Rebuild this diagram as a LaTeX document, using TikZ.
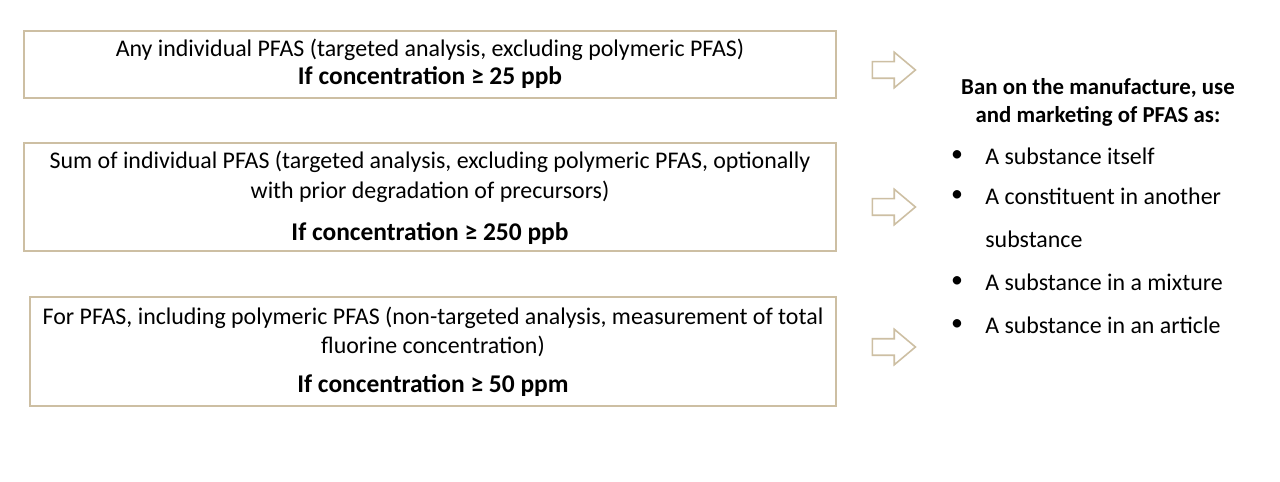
\documentclass[tikz,border=0pt]{standalone}
\usepackage{fontspec}
\setmainfont{Carlito}
\usetikzlibrary{shapes.arrows}
\definecolor{tan}{HTML}{CDBFA3}

\tikzset{
  critbox/.style={draw=tan, line width=0.9pt, fill=white, rectangle, inner sep=0pt},
  bigarrow/.style={single arrow, draw=tan, line width=0.9pt, fill=white, minimum width=0.68cm, minimum height=0.86cm, single arrow head extend=0.19cm, single arrow tip angle=80, inner xsep=0pt, inner ysep=0.15cm},
  txt/.style={font=\fontsize{13.6}{15.9}\selectfont, inner sep=0pt},
  limit/.style={font=\fontsize{14.5}{16}\selectfont\bfseries, inner sep=0pt}
}

\begin{document}
\begin{tikzpicture}[x=0.02cm,y=-0.02cm]
\useasboundingbox[fill=white] (0,0) rectangle (1280,482);
% criteria boxes
\node[critbox, minimum width=812*0.02cm, minimum height=67*0.02cm] (b1) at (430,64.5) {};
\node[critbox, minimum width=812*0.02cm, minimum height=108*0.02cm] (b2) at (430,197) {};
\node[critbox, minimum width=806*0.02cm, minimum height=109*0.02cm] (b3) at (433,351.5) {};
\node[txt] (t11) at (430,50) {Any individual PFAS (targeted analysis, excluding polymeric PFAS)};
\node[limit] (t12) at (430,78) {If concentration ≥ 25 ppb};
\node[txt] (t21) at (430,162) {Sum of individual PFAS (targeted analysis, excluding polymeric PFAS, optionally};
\node[txt] (t22) at (430,192) {with prior degradation of precursors)};
\node[limit] (t23) at (430,234) {If concentration ≥ 250 ppb};
\node[txt] (t31) at (433,318) {For PFAS, including polymeric PFAS (non-targeted analysis, measurement of total};
\node[txt] (t32) at (433,346) {fluorine concentration)};
\node[limit] (t33) at (433,386) {If concentration ≥ 50 ppm};
% arrows
\foreach \y [count=\i] in {70,207,347}
  \node[bigarrow] (a\i) at (889,\y) {};
% consequence
\node[txt, font=\fontsize{13}{16}\selectfont\bfseries, align=center] (ban) at (1098,102) {Ban on the manufacture, use\\and marketing of PFAS as:};
\foreach \y/\s [count=\i] in {156/A substance itself,196/A constituent in another,282/A substance in a mixture,325/A substance in an article}
{
  \node[txt] (d\i) at (957,\y) {•};
  \node[txt, anchor=west] (s\i) at (985,\y) {\s};
}
\node[txt, anchor=west] (s2b) at (985,239) {substance};
\end{tikzpicture}
\end{document}
